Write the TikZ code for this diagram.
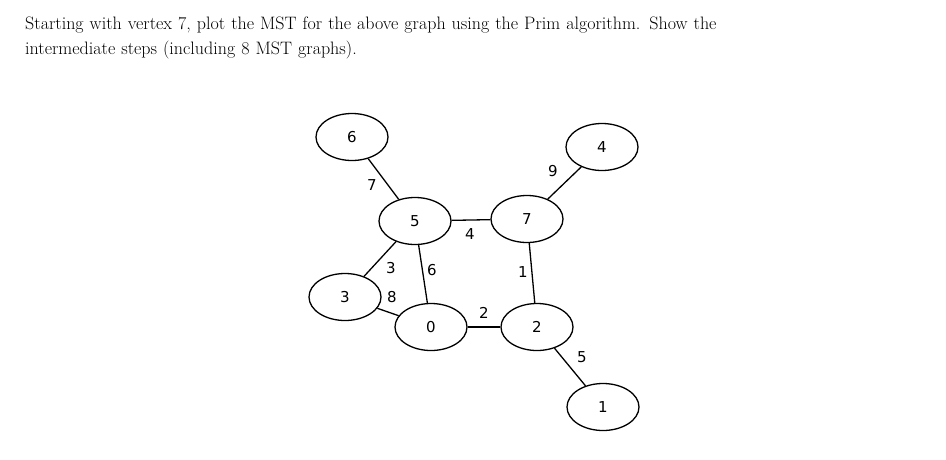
\documentclass[tikz,border=0pt]{standalone}
\usepackage{fontspec}
\usetikzlibrary{shapes.geometric}
\newfontfamily\gfont{DejaVu Sans}
\begin{document}
\begin{tikzpicture}[x=1pt,y=-1pt,
  vtx/.style={draw,ellipse,minimum width=72pt,minimum height=47pt,inner sep=0pt,font=\gfont\fontsize{15}{17}\selectfont,line width=1.3pt},
  wt/.style={font=\gfont\fontsize{15}{17}\selectfont,inner sep=0pt},
  edge/.style={line width=1.3pt}]
\useasboundingbox (0,0) rectangle (946,459);
\node[anchor=north west,text width=896pt,inner sep=0pt,font=\fontsize{18}{25}\selectfont] (txt) at (25,17) {Starting with vertex 7, plot the MST for the above graph using the Prim algorithm. Show the\linebreak intermediate steps (including 8 MST graphs).};
\node[vtx] (n6) at (352,137) {6};
\node[vtx] (n4) at (602,147) {4};
\node[vtx] (n5) at (415,221) {5};
\node[vtx] (n7) at (527,219) {7};
\node[vtx] (n3) at (345,297) {3};
\node[vtx] (n0) at (431,327) {0};
\node[vtx] (n2) at (537,327) {2};
\node[vtx] (n1) at (603,407) {1};
\draw[edge] (n6) -- (n5);
\draw[edge] (n5) -- (n7);
\draw[edge] (n7) -- (n4);
\draw[edge] (n5) -- (n3);
\draw[edge] (n5) -- (n0);
\draw[edge] (n3) -- (n0);
\draw[edge] (n0) -- (n2);
\draw[edge] (n7) -- (n2);
\draw[edge] (n2) -- (n1);
\node[wt] (w7) at (372,185) {7};
\node[wt] (w9) at (553,171) {9};
\node[wt] (w4) at (470,234) {4};
\node[wt] (w3) at (391,268) {3};
\node[wt] (w6) at (432,270) {6};
\node[wt] (w8) at (392,297) {8};
\node[wt] (w1) at (523,272) {1};
\node[wt] (w2) at (484,313) {2};
\node[wt] (w5) at (582,357) {5};
\end{tikzpicture}
\end{document}
